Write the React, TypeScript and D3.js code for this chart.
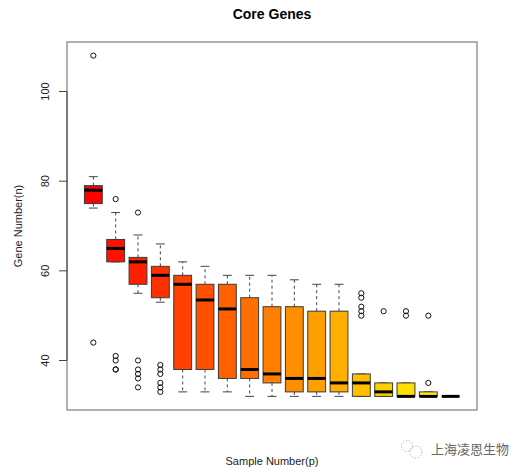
import React from "react";
import * as d3 from "d3";

// one entry per sample number (p = 1..17)
const samples = d3.range(1, 18);
const whiskerLow = [74, 62, 55, 53, 33, 33, 33, 32, 32, 32, 32, 32, 32, 32, 32, 32, 32];
const q1 = [75, 62, 57, 54, 38, 38, 36, 36, 35, 33, 33, 33, 32, 32, 32, 32, 32];
const medians = [78, 65, 62, 59, 57, 53.5, 51.5, 38, 37, 36, 36, 35, 35, 33, 32, 32, 32];
const q3 = [79, 67, 63, 61, 59, 57, 57, 54, 52, 52, 51, 51, 37, 35, 35, 33, 32];
const whiskerHigh = [81, 73, 68, 66, 62, 61, 59, 59, 59, 58, 57, 57, 37, 35, 35, 33, 32];
const outliers = [
  [108, 44],
  [76, 41, 40, 38, 38],
  [73, 40, 38, 37, 36, 34],
  [39, 38, 37, 35, 34, 33],
  [], [], [], [], [], [], [], [],
  [55, 54, 52, 51, 50],
  [51],
  [51, 50],
  [50, 35],
  [],
];
const yTicks = [40, 60, 80, 100];

const W = 524;
const H = 473;
const font = "'Liberation Sans', Arial, Helvetica, sans-serif";

const App = () => {
  const left = 67, right = 477, top = 42, bottom = 410;

  const x = d3.scaleLinear().domain([-0.18, 18.18]).range([left, right]);
  const y = d3.scaleLinear().domain([28.96, 111.04]).range([bottom, top]);
  const color = d3.scaleLinear<string>().domain([1, 17]).range(["#ff0000", "#ffff00"]).interpolate(d3.interpolateRgb);

  const bw = (x(1.4) - x(0.6));
  const staple = bw / 2;

  return (
    <svg width={W} height={H} style={{ position: "absolute", left: 0, top: 0, background: "#fff" }} fontFamily={font}>
      <text x={(left + right) / 2} y={19} textAnchor="middle" fontWeight="bold" fontSize={14}>Core Genes</text>

      {samples.map((s, i) => {
        const cx = x(s);
        return (
          <g key={s}>
            <line x1={cx} x2={cx} y1={y(q3[i])} y2={y(whiskerHigh[i])} stroke="#444" strokeDasharray="3,3" />
            <line x1={cx} x2={cx} y1={y(q1[i])} y2={y(whiskerLow[i])} stroke="#444" strokeDasharray="3,3" />
            <line x1={cx - staple / 2} x2={cx + staple / 2} y1={y(whiskerHigh[i])} y2={y(whiskerHigh[i])} stroke="#444" />
            <line x1={cx - staple / 2} x2={cx + staple / 2} y1={y(whiskerLow[i])} y2={y(whiskerLow[i])} stroke="#444" />
            <rect x={cx - bw / 2} width={bw} y={y(q3[i])} height={y(q1[i]) - y(q3[i])}
              fill={color(s)} stroke="#3a3a3a" strokeWidth={1} />
            <line x1={cx - bw / 2} x2={cx + bw / 2} y1={y(medians[i])} y2={y(medians[i])} stroke="#000" strokeWidth={3} />
            {outliers[i].map((v, j) => (
              <circle key={j} cx={cx} cy={y(v)} r={2.6} fill="none" stroke="#111" strokeWidth={1} />
            ))}
          </g>
        );
      })}

      {/* frame and y axis */}
      <rect x={left} y={top} width={right - left} height={bottom - top} fill="none" stroke="#888" strokeWidth={1.3} />
      <line x1={left} x2={left} y1={y(yTicks[0])} y2={y(yTicks[yTicks.length - 1])} stroke="#444" />
      {yTicks.map((t) => (
        <g key={t} transform={`translate(${left},${y(t)})`}>
          <line x1={-8} x2={0} stroke="#444" />
          <text transform="translate(-18,0) rotate(-90)" textAnchor="middle" fontSize={11} fill="#222">{t}</text>
        </g>
      ))}

      <text transform={`translate(22,${(top + bottom) / 2}) rotate(-90)`} textAnchor="middle" fontSize={11} fill="#222">Gene Number(n)</text>
      <text x={(left + right) / 2} y={465} textAnchor="middle" fontSize={11} fill="#222">Sample Number(p)</text>

      {/* watermark */}
      <g stroke="#aaa" fill="none" strokeWidth={0.8} strokeDasharray="1.5,1.5">
        <circle cx={407} cy={446} r={5.5} />
        <circle cx={416} cy={452} r={6} />
      </g>
      <text x={431} y={454} fontSize={13} fill="#666" fontFamily="'Noto Sans CJK SC', sans-serif">上海凌恩生物</text>
    </svg>
  );
};

export default App;
